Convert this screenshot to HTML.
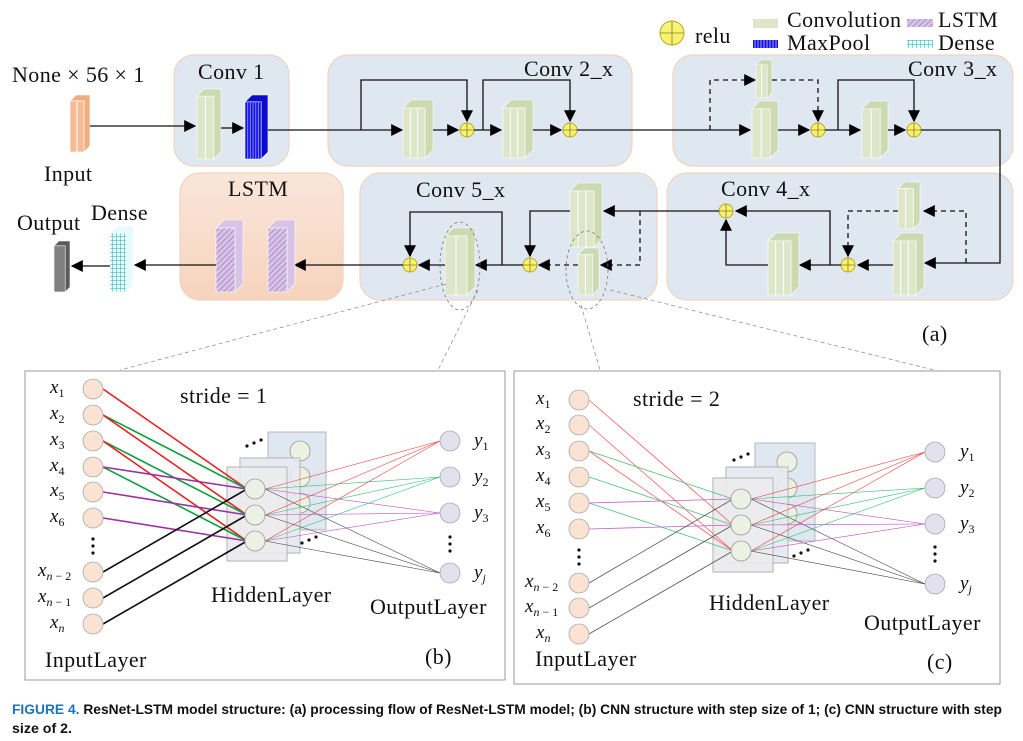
<!DOCTYPE html>
<html><head><meta charset="utf-8"><style>
html,body{margin:0;padding:0;background:#fff;}
svg{display:block;}
.s{font-family:"Liberation Serif",serif;fill:#111;}
</style></head><body>
<svg id="g" width="1023" height="741" viewBox="0 0 1023 741" xmlns="http://www.w3.org/2000/svg">
<defs>
<marker id="a" viewBox="0 0 10 10" refX="9" refY="5" markerWidth="14" markerHeight="12" orient="auto" markerUnits="userSpaceOnUse"><path d="M0,0L10,5L0,10z" fill="#000"/></marker>
<linearGradient id="lg" x1="0" y1="0" x2="0" y2="1"><stop offset="0" stop-color="#fae6da"/><stop offset="1" stop-color="#f6d3bd"/></linearGradient>
<pattern id="hp" width="4" height="4" patternUnits="userSpaceOnUse" patternTransform="rotate(45)"><rect width="4" height="4" fill="#d7c3e6"/><line x1="0" y1="0" x2="0" y2="4" stroke="#9a78c0" stroke-width="1.4"/></pattern>
<pattern id="gp" width="4" height="4" patternUnits="userSpaceOnUse"><rect width="4" height="4" fill="#e6fbfb"/><path d="M0,0H4M0,0V4" stroke="#20b0b8" stroke-width="1"/></pattern>
</defs>
<g stroke="#f3d3bd" stroke-width="1.2" fill="#dfe8f0">
<rect x="174" y="55" width="115" height="111" rx="20"/>
<rect x="328" y="55" width="304" height="111" rx="20"/>
<rect x="673" y="55" width="340" height="111" rx="20"/>
<rect x="180" y="173" width="163" height="127" rx="20" fill="url(#lg)"/>
<rect x="360" y="173" width="297" height="127" rx="20"/>
<rect x="667" y="173" width="346" height="127" rx="20"/>
</g>
<g id="shapes"></g>
<g class="s" font-size="22" letter-spacing="0.4">
<text x="12" y="82">None × 56 × 1</text>
<text x="44" y="181">Input</text>
<text x="198" y="79">Conv 1</text>
<text x="524" y="76">Conv 2_x</text>
<text x="908" y="76">Conv 3_x</text>
<text x="228" y="196">LSTM</text>
<text x="416" y="197">Conv 5_x</text>
<text x="721" y="196">Conv 4_x</text>
<text x="17" y="230">Output</text>
<text x="91" y="220">Dense</text>
<text x="695" y="43">relu</text>
<text x="787" y="27">Convolution</text>
<text x="787" y="50">MaxPool</text>
<text x="938" y="27">LSTM</text>
<text x="938" y="50">Dense</text>
<text x="922" y="341">(a)</text>
<text x="180" y="403">stride = 1</text>
<text x="211" y="602">HiddenLayer</text>
<text x="370" y="614">OutputLayer</text>
<text x="45" y="667">InputLayer</text>
<text x="425" y="664">(b)</text>
<text x="633" y="406">stride = 2</text>
<text x="709" y="610">HiddenLayer</text>
<text x="864" y="630">OutputLayer</text>
<text x="535" y="666">InputLayer</text>
<text x="927" y="669">(c)</text>
</g>
<g class="s" font-size="19" font-style="italic">
<text x="50" y="393">x<tspan font-size="12" dy="4" font-style="normal">1</tspan></text>
<text x="50" y="419">x<tspan font-size="12" dy="4" font-style="normal">2</tspan></text>
<text x="50" y="445">x<tspan font-size="12" dy="4" font-style="normal">3</tspan></text>
<text x="50" y="471">x<tspan font-size="12" dy="4" font-style="normal">4</tspan></text>
<text x="50" y="496">x<tspan font-size="12" dy="4" font-style="normal">5</tspan></text>
<text x="50" y="522">x<tspan font-size="12" dy="4" font-style="normal">6</tspan></text>
<text x="38" y="576">x<tspan font-size="12" dy="4">n</tspan><tspan font-size="12" font-style="normal"> − 2</tspan></text>
<text x="38" y="602">x<tspan font-size="12" dy="4">n</tspan><tspan font-size="12" font-style="normal"> − 1</tspan></text>
<text x="50" y="628">x<tspan font-size="12" dy="4">n</tspan></text>
<text x="474" y="446">y<tspan font-size="12" dy="4" font-style="normal">1</tspan></text>
<text x="474" y="482">y<tspan font-size="12" dy="4" font-style="normal">2</tspan></text>
<text x="474" y="518">y<tspan font-size="12" dy="4" font-style="normal">3</tspan></text>
<text x="474" y="578">y<tspan font-size="12" dy="4">j</tspan></text>
<text x="536" y="404">x<tspan font-size="12" dy="4" font-style="normal">1</tspan></text>
<text x="536" y="429">x<tspan font-size="12" dy="4" font-style="normal">2</tspan></text>
<text x="536" y="455">x<tspan font-size="12" dy="4" font-style="normal">3</tspan></text>
<text x="536" y="481">x<tspan font-size="12" dy="4" font-style="normal">4</tspan></text>
<text x="536" y="507">x<tspan font-size="12" dy="4" font-style="normal">5</tspan></text>
<text x="536" y="533">x<tspan font-size="12" dy="4" font-style="normal">6</tspan></text>
<text x="525" y="587">x<tspan font-size="12" dy="4">n</tspan><tspan font-size="12" font-style="normal"> − 2</tspan></text>
<text x="525" y="612">x<tspan font-size="12" dy="4">n</tspan><tspan font-size="12" font-style="normal"> − 1</tspan></text>
<text x="536" y="638">x<tspan font-size="12" dy="4">n</tspan></text>
<text x="960" y="457">y<tspan font-size="12" dy="4" font-style="normal">1</tspan></text>
<text x="960" y="493">y<tspan font-size="12" dy="4" font-style="normal">2</tspan></text>
<text x="960" y="529">y<tspan font-size="12" dy="4" font-style="normal">3</tspan></text>
<text x="960" y="589">y<tspan font-size="12" dy="4">j</tspan></text>
</g>
<g font-family="'Liberation Sans',sans-serif" font-weight="bold" font-size="14" fill="#111">
<text x="12" y="714" textLength="990" lengthAdjust="spacingAndGlyphs"><tspan fill="#1f74b8">FIGURE 4.</tspan>  ResNet-LSTM model structure: (a) processing flow of ResNet-LSTM model; (b) CNN structure with step size of 1; (c) CNN structure with step</text>
<text x="12" y="733" textLength="60" lengthAdjust="spacingAndGlyphs">size of 2.</text>
</g>
</svg>
<script>
var G=document.getElementById('shapes'),NS='http://www.w3.org/2000/svg';
function el(t,a,p){var e=document.createElementNS(NS,t);for(var k in a)e.setAttribute(k,a[k]);(p||G).appendChild(e);return e;}
function blk(x,y,w,h,fr,sd,nl,lc,fill2){var k=Math.min(8,w*0.3);
 el('polygon',{points:[x,y+k,x+k,y,x+w,y,x+w,y+h-k,x+w-k,y+h,x+w-k,y+k].join(' '),fill:sd,stroke:'#fff','stroke-width':0.6});
 el('rect',{x:x,y:y+k,width:w-k,height:h-k,fill:fill2||fr,stroke:'#fff','stroke-width':0.6});
 for(var i=1;i<nl;i++){var xx=x+(w-k)*i/nl;el('line',{x1:xx,y1:y+k,x2:xx,y2:y+h,stroke:lc||'#fff','stroke-width':1});}}
function gb(x,y,w,h,n){blk(x,y,w,h,'#dde6c8','#cdd9b0',n||2);}
function relu(x,y,r){r=r||7;el('circle',{cx:x,cy:y,r:r,fill:'#f7f370',stroke:'#b8a830','stroke-width':1});
 el('path',{d:'M'+(x-r)+' '+y+'H'+(x+r)+'M'+x+' '+(y-r)+'V'+(y+r),stroke:'#8a7a20','stroke-width':0.8});}
function ln(pts,o){o=o||{};var a={points:pts.join(' '),fill:'none',stroke:o.c||'#111','stroke-width':o.w||1.3};
 if(o.d)a['stroke-dasharray']='5,4';if(o.m!==false)a['marker-end']='url(#a)';el('polyline',a);}
relu(672,33,12);
el('rect',{x:753,y:19,width:25,height:9,fill:'#dde6c8'});
el('rect',{x:753,y:40,width:25,height:8,fill:'#1010e0'});
for(var i=0;i<8;i++)el('line',{x1:755+i*3,y1:40,x2:755+i*3,y2:48,stroke:'#fff','stroke-width':0.6});
el('rect',{x:907,y:19,width:26,height:8,fill:'url(#hp)'});
el('rect',{x:907,y:40,width:26,height:8,fill:'url(#gp)'});
blk(70,95,20,57,'#f4bc94','#f0ae80',2);
ln([90,126,195,126]);
gb(197,89,24,70,2);
ln([221,128,243,128]);
blk(245,95,23,64,'#1010e0','#0a0ad0',6,'#8888ff');
ln([268,130,402,130]);
ln([361,130,361,80,467,80,467,121]);
gb(403,100,30,58,3);
ln([433,130,458,130]);relu(467,130);
ln([474,130,501,130]);
gb(503,100,30,58,3);
ln([483,130,483,80,570,80,570,121]);
ln([533,130,561,130]);relu(570,130);
ln([577,130,750,130]);
ln([710,130,710,80,755,80],{d:1});
gb(756,60,16,38,2);
ln([772,80,818,80,818,121],{d:1});
gb(752,101,26,57,2);
ln([778,130,809,130]);relu(818,130);
ln([825,130,860,130]);
ln([838,130,838,80,914,80,914,121]);
gb(862,101,26,57,2);
ln([888,130,905,130]);relu(914,130);
ln([921,130,1000,130,1000,263,925,263]);
gb(893,233,31,62,3);
ln([966,263,966,211,924,211],{d:1});
gb(898,182,22,47,2);
ln([898,211,848,211,848,256],{d:1});
ln([893,265,858,265]);relu(848,265);
ln([841,265,800,265]);
gb(768,233,31,62,3);
ln([830,265,830,211,736,211]);
ln([768,265,726,265,726,220]);relu(726,211);
ln([719,211,604,211]);
gb(570,183,32,64,3);
ln([640,211,640,265,601,265],{d:1});
gb(578,248,21,47,2);
ln([578,265,539,265],{d:1});
ln([570,211,530,211,530,256]);relu(530,265);
ln([523,265,476,265]);
gb(445,228,30,67,2);
ln([502,265,502,212,410,212,410,256]);
ln([445,265,419,265]);relu(410,265);
ln([403,265,295,265]);
el('ellipse',{cx:460,cy:266,rx:20,ry:44,fill:'none',stroke:'#777','stroke-width':0.8,'stroke-dasharray':'3,3'});
el('ellipse',{cx:587,cy:270,rx:21,ry:39,fill:'none',stroke:'#777','stroke-width':0.8,'stroke-dasharray':'3,3'});
blk(268,220,27,72,'#d7c3e6','#d7c3e6',1,null,'url(#hp)');
blk(216,220,27,72,'#d7c3e6','#d7c3e6',1,null,'url(#hp)');
ln([216,265,135,265]);
blk(110,226,23,66,'#e6fbfb','#e6fbfb',1,null,'url(#gp)');
ln([110,266,72,266]);
blk(54,241,16,51,'#808080','#5a5a5a',1);
var dz={stroke:'#888','stroke-width':0.7,'stroke-dasharray':'4,3',fill:'none'};
el('line',Object.assign({x1:446,y1:284,x2:120,y2:370},dz));
el('line',Object.assign({x1:478,y1:290,x2:438,y2:370},dz));
el('line',Object.assign({x1:581,y1:305,x2:600,y2:370},dz));
el('line',Object.assign({x1:610,y1:290,x2:938,y2:371},dz));
el('rect',{x:25,y:371,width:480,height:309,fill:'none',stroke:'#999','stroke-width':1});
el('rect',{x:514,y:371,width:486,height:313,fill:'none',stroke:'#999','stroke-width':1});
function net(ix,iy,hr,hn,ox,oy,thick,map){
 for(var i=0;i<3;i++){var r=hr[i];el('rect',{x:r[0],y:r[1],width:r[2],height:r[3],fill:i==0?'#dfe7f0':(i==1?'#e6ebf1':'#ececef'),stroke:'#aaa','stroke-width':0.8});}
 var bn=hr[0];for(var i=0;i<3;i++)el('circle',{cx:bn[0]+32,cy:bn[1]+19+i*26,r:10,fill:'#edf1e4',stroke:'#999','stroke-width':0.8});
 el('rect',{x:hr[1][0],y:hr[1][1],width:hr[1][2],height:hr[1][3],fill:'#e6ebf1',stroke:'#aaa','stroke-width':0.8,'fill-opacity':0.85});
 el('rect',{x:hr[2][0],y:hr[2][1],width:hr[2][2],height:hr[2][3],fill:'#ececef',stroke:'#aaa','stroke-width':0.8,'fill-opacity':0.85});
 map.forEach(function(m){var a=iy[m[0]],b=hn[m[1]];el('line',{x1:ix+10,y1:a,x2:hn[m[1]][0]-8,y2:b[1],stroke:m[2],'stroke-width':thick});});
 var oc=['#f04040','#30c070','#c050c0','#444'];
 hn.forEach(function(h){oy.forEach(function(y,j){el('line',{x1:h[0]+10,y1:h[1],x2:ox-10,y2:y,stroke:oc[j],'stroke-width':0.6});});});
 iy.forEach(function(y){el('circle',{cx:ix,cy:y,r:10,fill:'#fae3d3',stroke:'#aaa','stroke-width':0.8});});
 hn.forEach(function(h){el('circle',{cx:h[0],cy:h[1],r:10,fill:'#edf1e4',stroke:'#999','stroke-width':0.8});});
 oy.forEach(function(y){el('circle',{cx:ox,cy:y,r:10,fill:'#e3e1ee',stroke:'#aaa','stroke-width':0.8});});
}
var R='#e82020',Gc='#10a040',P='#a030a0',K='#111';
net(93,[389,415,441,467,492,518,572,598,624],[[268,432,58,98],[240,458,60,95],[227,467,60,94]],[[255,489],[255,515],[255,541]],450,[441,477,513,573],1.6,
 [[0,0,R],[1,0,Gc],[1,1,R],[2,1,Gc],[2,2,R],[3,2,Gc],[3,0,P],[4,1,P],[5,2,P],[6,0,K],[7,1,K],[8,2,K]]);
var R2='#f06060',G2='#50c080',P2='#c060c0',K2='#555';
net(579,[400,425,451,477,503,529,583,608,634],[[755,443,60,98],[726,467,62,96],[713,478,60,94]],[[741,499],[741,525],[741,551]],935,[452,488,524,584],0.8,
 [[0,1,R2],[1,2,R2],[2,2,R2],[2,0,G2],[3,1,G2],[4,2,G2],[4,0,P2],[5,1,P2],[6,0,K2],[7,1,K2],[8,2,K2]]);
function dots(pts){pts.forEach(function(p){el('circle',{cx:p[0],cy:p[1],r:1.6,fill:'#111'});});}
dots([[93,539],[93,546],[93,553],[450,537],[450,544],[450,551],[247,446],[254,443],[261,440],[302,543],[309,540],[316,537]]);
dots([[579,550],[579,557],[579,564],[935,547],[935,554],[935,561],[734,460],[741,457],[748,454],[794,556],[801,553],[808,550]]);
</script>
</body></html>
